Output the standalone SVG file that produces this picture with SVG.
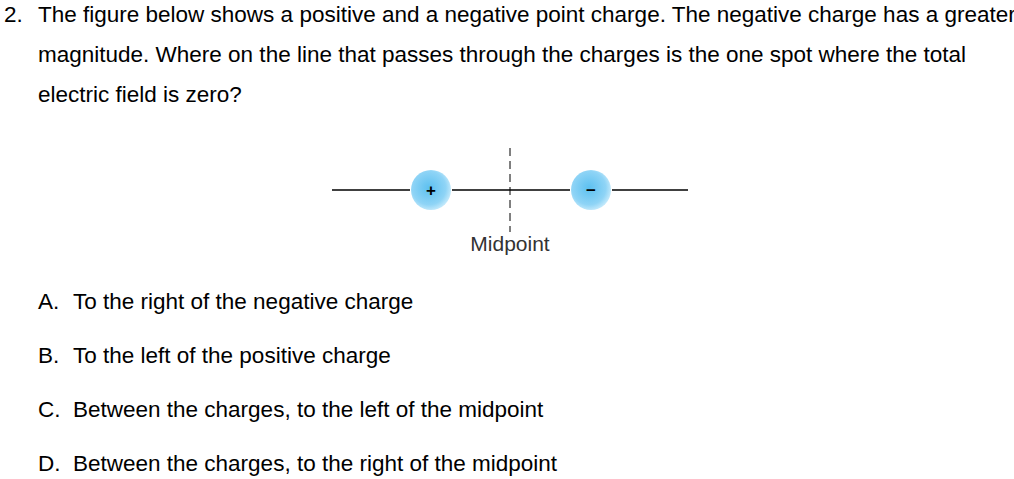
<svg xmlns="http://www.w3.org/2000/svg" width="1014" height="479" viewBox="0 0 1014 479">
<defs>
<radialGradient id="g" cx="0.45" cy="0.45" r="0.6">
<stop offset="0" stop-color="#5cc0f0"/><stop offset="0.7" stop-color="#8fd4f6"/><stop offset="1" stop-color="#cfeefc"/>
</radialGradient>
</defs>
<style>
text{font-family:"Liberation Sans",Arial,sans-serif;fill:#000}
.q{font-size:22.5px}
.s{font-size:21px;fill:#333}
.sign{font-size:17px;font-weight:bold;text-anchor:middle}
</style>
<rect width="1014" height="479" fill="#fff"/>
<g id="question">
<text class="q" x="4" y="22">2.</text>
<text class="q" x="38" y="22">The figure below shows a positive and a negative point charge. The negative charge has a greater</text>
<text class="q" x="38" y="62">magnitude. Where on the line that passes through the charges is the one spot where the total</text>
<text class="q" x="38" y="102">electric field is zero?</text>
</g>
<g id="connectors" stroke="#000" stroke-width="1.3">
<line x1="332" y1="190" x2="410" y2="190"/>
<line x1="452" y1="190" x2="570" y2="190"/>
<line x1="612" y1="190" x2="688" y2="190"/>
<line x1="510" y1="148" x2="510" y2="232" stroke-dasharray="8,5" stroke-width="1"/>
</g>
<g id="positive">
<circle cx="431" cy="190" r="20" fill="url(#g)"/>
<text class="sign" x="431" y="196">+</text>
</g>
<g id="negative">
<circle cx="591" cy="190" r="20" fill="url(#g)"/>
<text class="sign" x="591" y="196">−</text>
</g>
<g id="midpoint"><text class="s" x="510" y="251" text-anchor="middle">Midpoint</text></g>
<g id="options">
<text class="q" x="38" y="309">A.</text><text class="q" x="73" y="309">To the right of the negative charge</text>
<text class="q" x="38" y="363">B.</text><text class="q" x="73" y="363">To the left of the positive charge</text>
<text class="q" x="38" y="417">C.</text><text class="q" x="73" y="417">Between the charges, to the left of the midpoint</text>
<text class="q" x="38" y="471">D.</text><text class="q" x="73" y="471">Between the charges, to the right of the midpoint</text>
</g>
</svg>
